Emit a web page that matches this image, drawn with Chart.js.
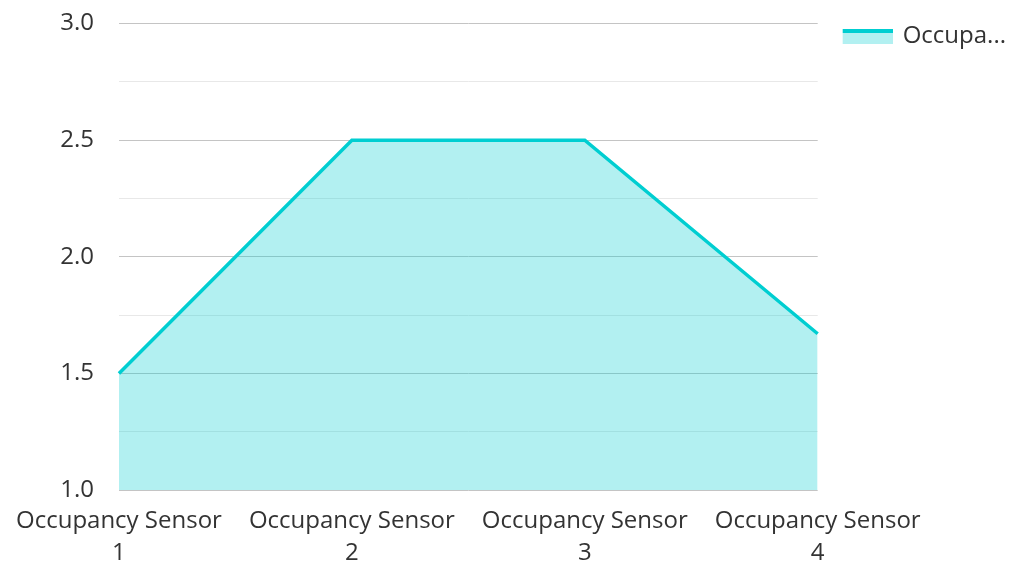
<!DOCTYPE html>
<html>
<head>
<meta charset="utf-8">
<script src="https://cdn.jsdelivr.net/npm/chart.js@4"></script>
<style>
  html, body { margin: 0; padding: 0; background: #fff; }
  #wrap { width: 1010px; height: 562px; }
</style>
</head>
<body>
<div id="wrap"><canvas id="occupancy"></canvas></div>
<script>
// chart data
const categories = [["Occupancy Sensor", "1"], ["Occupancy Sensor", "2"], ["Occupancy Sensor", "3"], ["Occupancy Sensor", "4"]];
const occupancyValues = [1.5, 2.5, 2.5, 1.67];
const seriesLabel = "Occupancy";
const yTicks = [1.0, 1.5, 2.0, 2.5, 3.0];

const lineColour = "#00ced1";
const fillColour = "rgba(0, 206, 209, 0.3)";
const textColour = "#333333";
const labelFont = { family: "'Open Sans', 'Noto Sans', sans-serif", size: 24, lineHeight: 1.3 };

// legend swatch: filled box with a line on top (left part left transparent for spacing)
const swatch = document.createElement("canvas");
swatch.width = 72;
swatch.height = 16;
const sctx = swatch.getContext("2d");
sctx.fillStyle = fillColour;
sctx.fillRect(22, 1, 50, 15);
sctx.fillStyle = lineColour;
sctx.fillRect(22, 1, 50, 4);

Chart.defaults.font.family = labelFont.family;
Chart.defaults.color = textColour;

new Chart(document.getElementById("occupancy"), {
	type: "line",
	data: {
		labels: categories,
		datasets: [
			{
				label: seriesLabel,
				data: occupancyValues,
				borderColor: lineColour,
				backgroundColor: fillColour,
				borderWidth: 3.5,
				fill: "origin",
				pointRadius: 0,
				tension: 0,
			},
		],
	},
	options: {
		responsive: true,
		maintainAspectRatio: false,
		animation: false,
		layout: {
			padding: { top: 19, right: -6, left: -3, bottom: 0 },
		},
		scales: {
			x: {
				offset: false,
				grid: { display: false, drawTicks: false },
				border: { display: false },
				afterFit: (axis) => { axis.height = 72; },
				ticks: { maxRotation: 0, autoSkip: false, padding: 16, font: labelFont },
			},
			y: {
				min: 1,
				max: 3,
				afterFit: (axis) => { axis.width = 113; },
				ticks: {
					stepSize: 0.25,
					padding: 8,
					font: labelFont,
					callback: (v) => (yTicks.includes(v) ? v.toFixed(1) : ""),
				},
				grid: {
					drawTicks: true,
					tickLength: 17,
					tickColor: "transparent",
					color: (ctx) => (yTicks.includes(ctx.tick.value) ? "#c4c4c4" : "#e8e8e8"),
				},
				border: { display: false },
			},
		},
		plugins: {
			legend: {
				position: "right",
				align: "start",
				labels: {
					usePointStyle: true,
					pointStyleWidth: 68,
					padding: 5,
					font: labelFont,
					generateLabels: (chart) =>
						chart.data.datasets.map((ds, i) => ({
							text: ds.label.slice(0, 6) + "...",
							pointStyle: swatch,
							datasetIndex: i,
							fontColor: textColour,
						})),
				},
			},
			tooltip: { enabled: false },
		},
	},
});
</script>
</body>
</html>
